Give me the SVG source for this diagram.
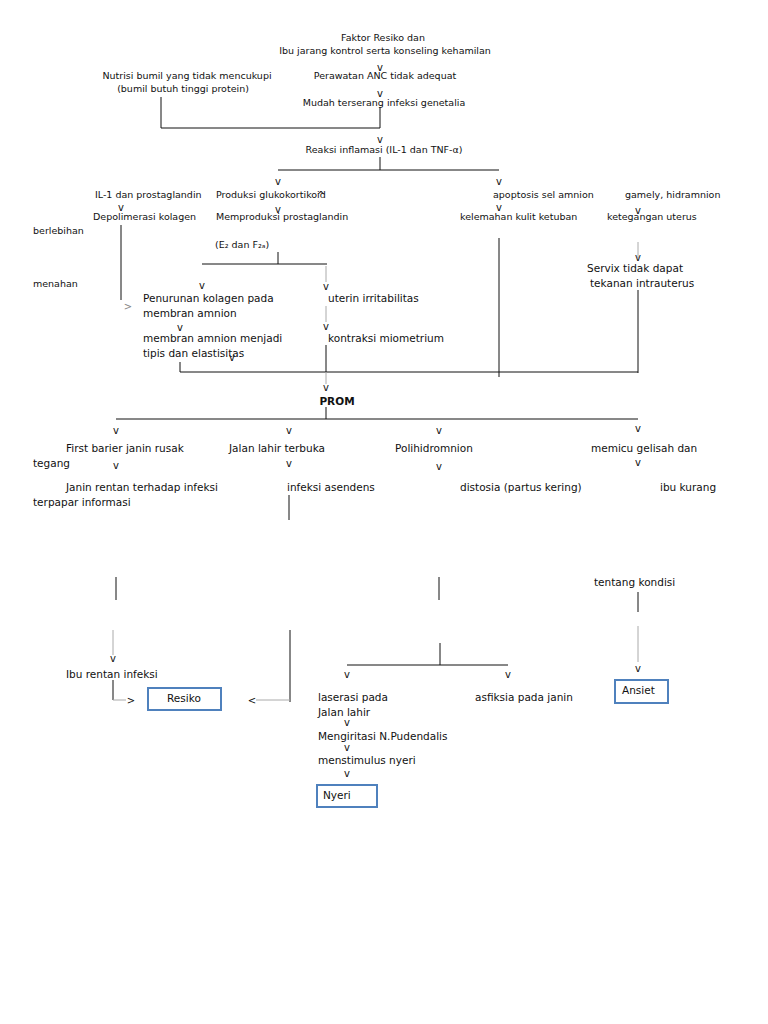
<svg xmlns="http://www.w3.org/2000/svg" width="768" height="1024" viewBox="0 0 768 1024">
<style>
text{font-family:"DejaVu Sans","Liberation Sans",sans-serif;font-size:10.5px;fill:#111}
.s{font-size:9.5px}
.c{text-anchor:middle}
.v{font-size:10px;text-anchor:middle}
.g{fill:#888}
line{stroke:#111;stroke-width:1}
.gl{stroke:#aaa}
rect{fill:#fff;stroke:#4f81bd;stroke-width:2}
</style>
<rect x="0" y="0" width="768" height="1024" style="fill:#fff;stroke:none"/>
<g id="connectors">
<line x1="380" y1="107" x2="380" y2="128"/><line x1="161" y1="97" x2="161" y2="128"/><line x1="161" y1="128" x2="380" y2="128"/>
<line x1="380" y1="157" x2="380" y2="170"/><line x1="278" y1="170" x2="499" y2="170"/>
<line x1="278" y1="252" x2="278" y2="264"/><line x1="202" y1="264" x2="327" y2="264"/>
<line x1="121" y1="225" x2="121" y2="300"/><line class="gl" x1="326" y1="266" x2="326" y2="282"/>
<line x1="499" y1="238" x2="499" y2="377"/><line class="gl" x1="638" y1="242" x2="638" y2="258"/>
<line x1="638" y1="290" x2="638" y2="373"/><line class="gl" x1="326" y1="306" x2="326" y2="322"/>
<line x1="326" y1="345" x2="326" y2="372"/><line x1="180" y1="362" x2="180" y2="372"/><line x1="180" y1="372" x2="638" y2="372"/>
<line class="gl" x1="326" y1="372" x2="326" y2="384"/>
<line x1="326" y1="407" x2="326" y2="419"/><line x1="116" y1="419" x2="638" y2="419"/>
<line x1="289" y1="495" x2="289" y2="520"/><line x1="116" y1="577" x2="116" y2="600"/><line x1="439" y1="577" x2="439" y2="600"/>
<line x1="638" y1="592" x2="638" y2="612"/><line class="gl" x1="638" y1="626" x2="638" y2="662"/>
<line class="gl" x1="113" y1="630" x2="113" y2="655"/><line x1="113" y1="680" x2="113" y2="700"/><line class="gl" x1="113" y1="700" x2="126" y2="700"/>
<line x1="290" y1="630" x2="290" y2="702"/><line class="gl" x1="256" y1="700" x2="290" y2="700"/>
<line x1="440" y1="643" x2="440" y2="665"/><line x1="347" y1="665" x2="508" y2="665"/>
</g>
<g id="arrows">
<text class="v" x="380" y="71">v</text><text class="v" x="380" y="97">v</text><text class="v" x="380" y="143">v</text>
<text class="v" x="278" y="185">v</text><text class="v" x="499" y="185">v</text><text class="v" x="321" y="199">^</text>
<text class="v" x="121" y="211">v</text><text class="v" x="278" y="213">v</text><text class="v" x="499" y="211">v</text><text class="v" x="638" y="214">v</text>
<text class="v" x="202" y="289">v</text><text class="v" x="326" y="290">v</text><text class="v" x="638" y="261">v</text>
<text class="v g" x="128" y="310">&gt;</text><text class="v" x="180" y="331">v</text><text class="v" x="326" y="330">v</text><text class="v" x="232" y="361">v</text>
<text class="v" x="326" y="391">v</text>
<text class="v" x="116" y="434">v</text><text class="v" x="289" y="434">v</text><text class="v" x="439" y="434">v</text><text class="v" x="638" y="432">v</text>
<text class="v" x="116" y="469">v</text><text class="v" x="289" y="467">v</text><text class="v" x="439" y="470">v</text><text class="v" x="638" y="466">v</text>
<text class="v" x="113" y="662">v</text><text class="v" x="638" y="672">v</text>
<text class="v" x="131" y="704">&gt;</text><text class="v" x="252" y="704">&lt;</text>
<text class="v" x="347" y="678">v</text><text class="v" x="508" y="678">v</text>
<text class="v" x="347" y="726">v</text><text class="v" x="347" y="751">v</text><text class="v" x="347" y="777">v</text>
</g>
<g id="top">
<text class="s c" x="383" y="41">Faktor Resiko dan</text>
<text class="s c" x="385" y="54">Ibu jarang kontrol serta konseling kehamilan</text>
<text class="s c" x="385" y="79">Perawatan ANC tidak adequat</text>
<text class="s c" x="187" y="79">Nutrisi bumil yang tidak mencukupi</text>
<text class="s c" x="183" y="92">(bumil butuh tinggi protein)</text>
<text class="s c" x="384" y="106">Mudah terserang infeksi genetalia</text>
<text class="s c" x="384" y="153">Reaksi inflamasi (IL-1 dan TNF-α)</text>
</g>
<g id="row2">
<text class="s" x="95" y="198">IL-1 dan prostaglandin</text>
<text class="s" x="216" y="198">Produksi glukokortikoid</text>
<text class="s" x="493" y="198">apoptosis sel amnion</text>
<text class="s" x="625" y="198">gamely, hidramnion</text>
<text class="s" x="93" y="220">Depolimerasi kolagen</text>
<text class="s" x="216" y="220">Memproduksi prostaglandin</text>
<text class="s" x="460" y="220">kelemahan kulit ketuban</text>
<text class="s" x="607" y="220">ketegangan uterus</text>
<text class="s" x="33" y="234">berlebihan</text>
<text class="s" x="215" y="248">(E₂ dan F₂ₐ)</text>
<text class="s" x="33" y="287">menahan</text>
<text x="587" y="272">Servix tidak dapat</text>
<text x="590" y="287">tekanan intrauterus</text>
<text x="143" y="302">Penurunan kolagen pada</text>
<text x="143" y="317">membran amnion</text>
<text x="143" y="342">membran amnion menjadi</text>
<text x="143" y="357">tipis dan elastisitas</text>
<text x="328" y="302">uterin irritabilitas</text>
<text x="328" y="342">kontraksi miometrium</text>
</g>
<g id="prom"><text x="337" y="405" class="c" style="font-weight:bold">PROM</text></g>
<g id="row3">
<text x="66" y="452">First barier janin rusak</text>
<text x="229" y="452">Jalan lahir terbuka</text>
<text x="395" y="452">Polihidromnion</text>
<text x="591" y="452">memicu gelisah dan</text>
<text x="33" y="467">tegang</text>
<text x="66" y="491">Janin rentan terhadap infeksi</text>
<text x="287" y="491">infeksi asendens</text>
<text x="460" y="491">distosia (partus kering)</text>
<text x="660" y="491">ibu kurang</text>
<text x="33" y="506">terpapar informasi</text>
<text x="594" y="586">tentang kondisi</text>
<text x="66" y="678">Ibu rentan infeksi</text>
<text x="318" y="701">laserasi pada</text>
<text x="318" y="716">Jalan lahir</text>
<text x="318" y="740">Mengiritasi N.Pudendalis</text>
<text x="318" y="764">menstimulus nyeri</text>
<text x="475" y="701">asfiksia pada janin</text>
</g>
<g id="resiko"><rect x="148" y="688" width="73" height="22"/><text x="167" y="702">Resiko</text></g>
<g id="nyeri"><rect x="317" y="785" width="60" height="22"/><text x="323" y="799">Nyeri</text></g>
<g id="ansiet"><rect x="615" y="680" width="53" height="23"/><text x="622" y="694">Ansiet</text></g>
</svg>
